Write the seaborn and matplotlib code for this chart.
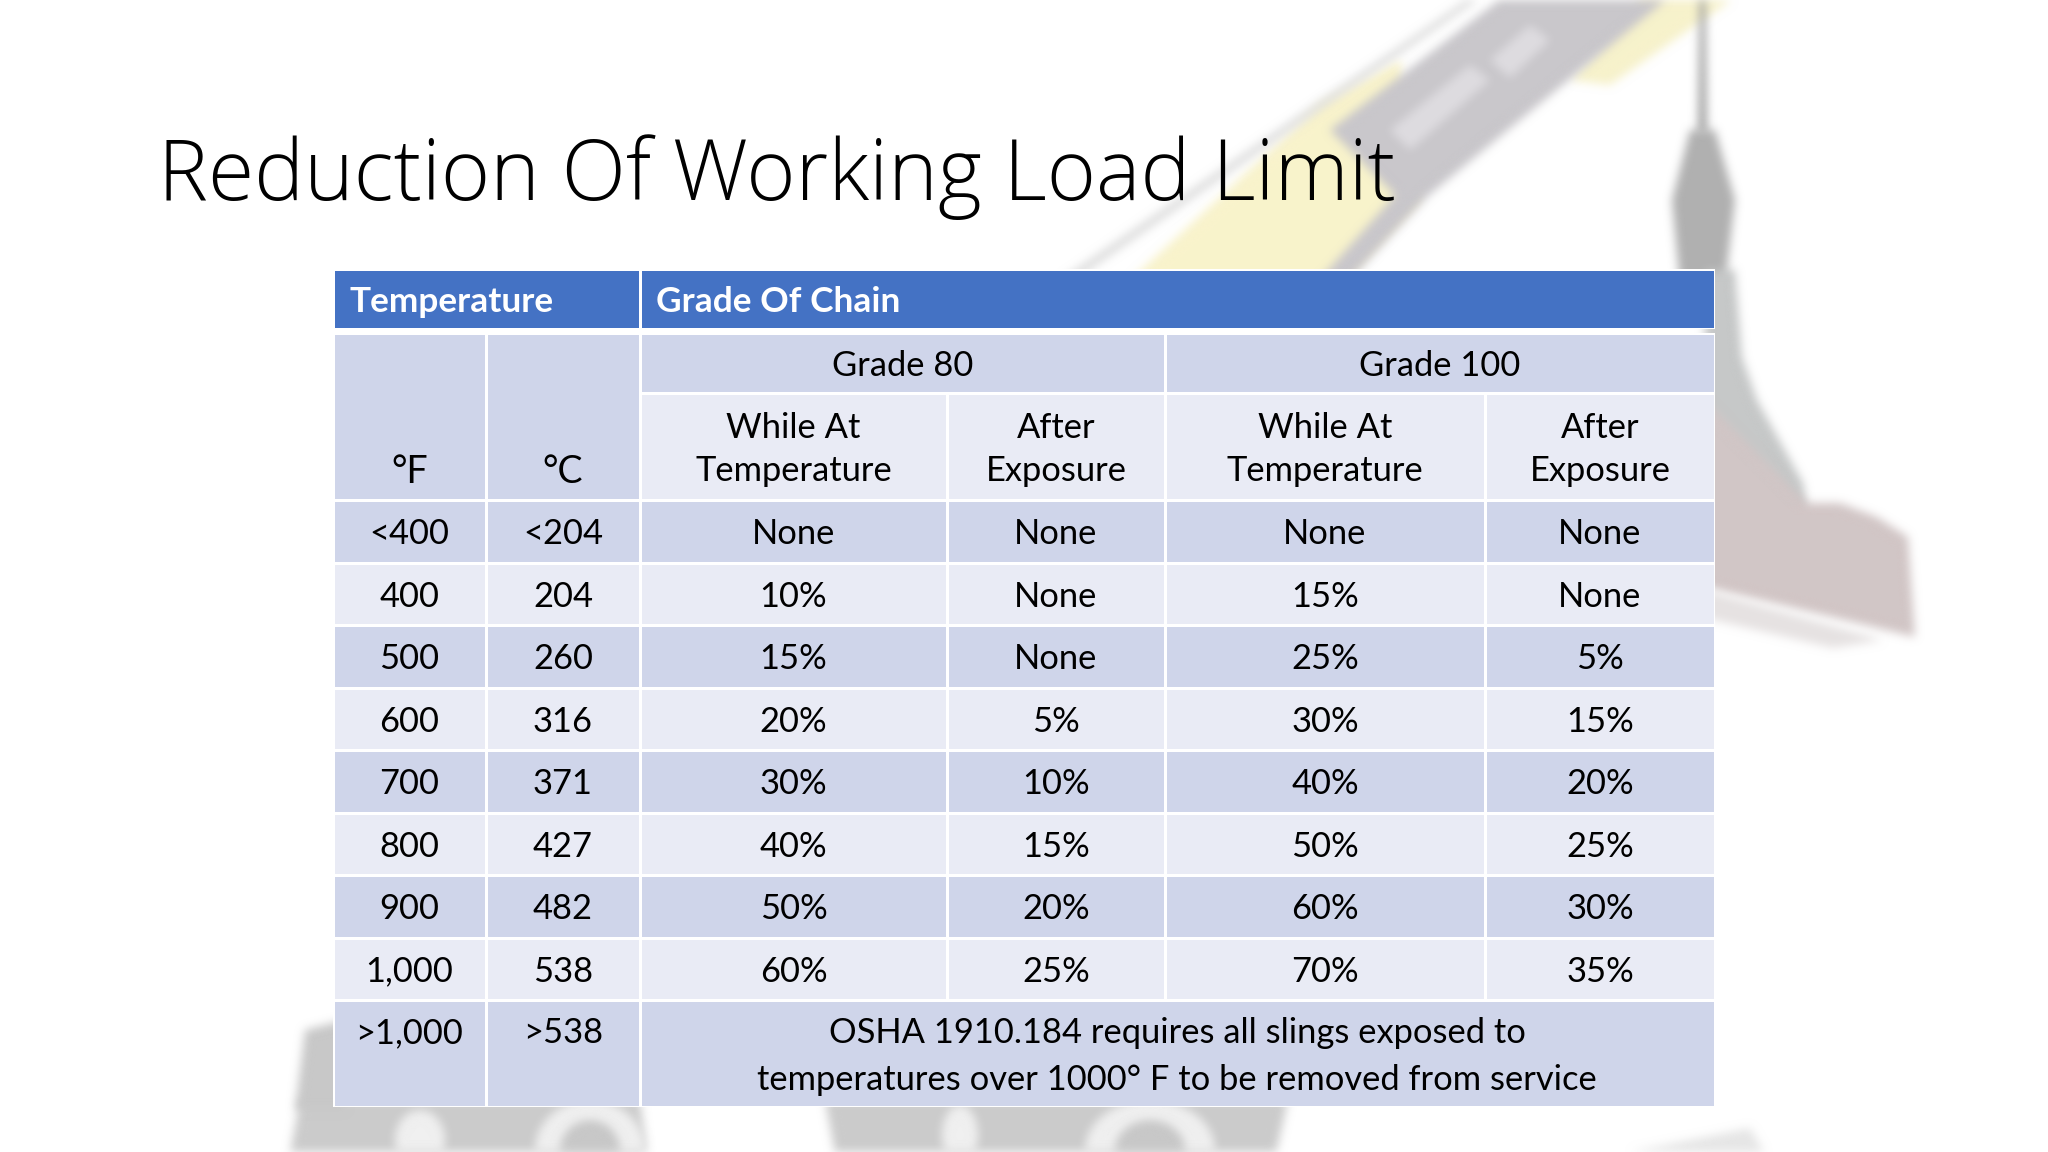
import numpy as np
import matplotlib
matplotlib.use('Agg')
import matplotlib.pyplot as plt
import matplotlib.transforms as mtransforms
from matplotlib.colors import ListedColormap
from matplotlib.patches import Polygon, Ellipse
import seaborn as sns

W, H = 2048, 1152
TITLE = 'Reduction Of Working Load Limit'
TEMP_F = ['<400', '400', '500', '600', '700', '800', '900', '1,000']
TEMP_C = ['<204', '204', '260', '316', '371', '427', '482', '538']
G80_WHILE = ['None', '10%', '15%', '20%', '30%', '40%', '50%', '60%']
G80_AFTER = ['None', 'None', 'None', '5%', '10%', '15%', '20%', '25%']
G100_WHILE = ['None', '15%', '25%', '30%', '40%', '50%', '60%', '70%']
G100_AFTER = ['None', 'None', '5%', '15%', '20%', '25%', '30%', '35%']
BANDS = [1, 0, 1, 0, 1, 0, 1, 0]
NOTE = ['OSHA 1910.184 requires all slings exposed to',
        'temperatures over 1000° F to be removed from service']

HEAD = '#4472C4'
DARK = '#CFD5EA'
LIGHT = '#E9EBF5'
FONT = 'Lato'
FS = 24.8

sns.set_theme(style='white')
plt.rcParams['font.family'] = [FONT, 'DejaVu Sans']
cmap = ListedColormap([LIGHT, DARK, HEAD])

fig = plt.figure(figsize=(W / 100, H / 100), dpi=100, facecolor='white')


def blur(img, dpi):
    # pad first, the filter only gets the artist's own box
    pad = 24
    out = np.pad(img, ((pad, pad), (pad, pad), (0, 0)))
    out[..., :3] *= out[..., 3:]
    for _ in range(3):
        for axis in (0, 1):
            out = sum(np.roll(out, s, axis=axis) for s in range(-4, 5)) / 9
    out[..., :3] /= np.maximum(out[..., 3:], 1e-4)
    return np.clip(out, 0, 1), -pad, -pad


def panel(x0, x1, y0, y1, values, labels=None, size=FS):
    ax = fig.add_axes([x0 / W, 1 - y1 / H, (x1 - x0) / W, (y1 - y0) / H])
    annot = np.array(labels).reshape(-1, 1) if labels is not None else False
    sns.heatmap(np.array(values).reshape(-1, 1), ax=ax, cmap=cmap, vmin=-0.5, vmax=2.5, cbar=False,
                annot=annot, fmt='', annot_kws={'color': 'black', 'fontsize': size, 'linespacing': 1.45},
                xticklabels=False, yticklabels=False, linewidths=1, linecolor='white')
    for t in ax.texts:
        t.set_transform(mtransforms.offset_copy(t.get_transform(), fig, y=-3, units='dots'))
    return ax


def put(x, y, s, ha='center', color='black', size=FS, **kw):
    fig.text(x / W, 1 - y / H, s, ha=ha, va='center', color=color, fontsize=size, **kw)


# background picture, very rough
bg = fig.add_axes([0, 0, 1, 1], zorder=-1)
bg.set_xlim(0, W)
bg.set_ylim(H, 0)
bg.axis('off')
shapes = [
    ([(1125, 285), (1321, 103), (1400, 60), (1420, 200), (1340, 285)], '#f9f3cc'),
    ([(1660, -20), (1760, -20), (1610, 85), (1570, 80)], '#f7f2cc'),
    ([(1525, -20), (1690, -20), (1428, 196), (1345, 285), (1315, 285), (1395, 195), (1330, 130)], '#c9c7cb'),
    ([(1060, 280), (1481, -10), (1492, -10), (1075, 280)], '#dcdcdc'),
    ([(1700, -20), (1705, -20), (1707, 134), (1698, 134)], '#a0a0a0'),
    ([(1690, 130), (1715, 130), (1735, 200), (1725, 285), (1680, 285), (1672, 200)], '#b0b0b0'),
    ([(1705, 270), (1735, 270), (1742, 357), (1757, 400), (1803, 483), (1807, 510), (1705, 510)], '#c6c8c8'),
    ([(1705, 400), (1807, 503), (1840, 503), (1877, 517), (1908, 537), (1915, 637), (1705, 587)], '#d2c6c6'),
    ([(1705, 590), (1883, 640), (1833, 648), (1705, 618)], '#e6e2e2'),
    ([(300, 1100), (640, 1100), (650, 1180), (285, 1180)], '#cccccc'),
    ([(825, 1100), (1288, 1100), (1270, 1180), (840, 1180)], '#cccccc'),
    ([(305, 1030), (345, 1020), (345, 1110), (295, 1110)], '#c8c8c8'),
    ([(1490, 1180), (1750, 1128), (1780, 1180)], '#e6e6e6'),
    ([(1390, 130), (1470, 65), (1490, 80), (1410, 150)], '#dedce0'),
    ([(1490, 60), (1530, 25), (1550, 40), (1510, 78)], '#dedce0'),
]
for pts, col in shapes:
    patch = Polygon(pts, closed=True, facecolor=col, edgecolor='none', clip_on=False)
    patch.set_agg_filter(blur)
    bg.add_patch(patch)
rings = [(590, 1150, 110, 100, '#f0f0f0'), (590, 1150, 60, 60, '#c8c8c8'),
         (1150, 1150, 130, 100, '#f0f0f0'), (1150, 1150, 70, 60, '#c8c8c8'),
         (420, 1140, 50, 60, '#f0f0f0'), (960, 1135, 36, 60, '#f0f0f0')]
for cx, cy, w, h, col in rings:
    hole = Ellipse((cx, cy), w, h, facecolor=col, edgecolor='none', zorder=3)
    hole.set_agg_filter(blur)
    bg.add_patch(hole)

fig.text(158 / W, 1 - 200 / H, TITLE, ha='left', va='baseline', fontsize=60.6, color='black',
         family=['Open Sans', 'DejaVu Sans'], fontweight='light')

# column edges and the uniform body rows
cols = [333, 486, 640, 947, 1165, 1485, 1715]
body_top, body_bottom = 500, 1000
bodies = [TEMP_F, TEMP_C, G80_WHILE, G80_AFTER, G100_WHILE, G100_AFTER]
for i, labels in enumerate(bodies):
    panel(cols[i], cols[i + 1], body_top, body_bottom, BANDS, labels)

# header rows
panel(cols[0], cols[2], 269, 329, [2])
panel(cols[2], cols[6], 269, 329, [2])
panel(cols[0], cols[1], 333, 500, [1])
panel(cols[1], cols[2], 333, 500, [1])
panel(cols[2], cols[4], 333, 393, [1], ['Grade 80'])
panel(cols[4], cols[6], 333, 393, [1], ['Grade 100'])
for i, label in zip(range(2, 6), ['While At\nTemperature', 'After\nExposure'] * 2):
    panel(cols[i], cols[i + 1], 393, 500, [0], [label])

# last row
panel(cols[0], cols[1], 1000, 1107, [1])
panel(cols[1], cols[2], 1000, 1107, [1])
panel(cols[2], cols[6], 1000, 1107, [1])

put(349, 302, 'Temperature', ha='left', color='white', size=25.4, fontweight='bold')
put(656, 302, 'Grade Of Chain', ha='left', color='white', size=25.4, fontweight='bold')
put(410, 472, '°F', size=27)
put(563, 472, '°C', size=27)
put(409, 1033, '>1,000')
put(563, 1033, '>538')
put(1177, 1033, NOTE[0])
put(1177, 1080, NOTE[1])

fig.savefig('out.png', dpi=100, facecolor='white')
